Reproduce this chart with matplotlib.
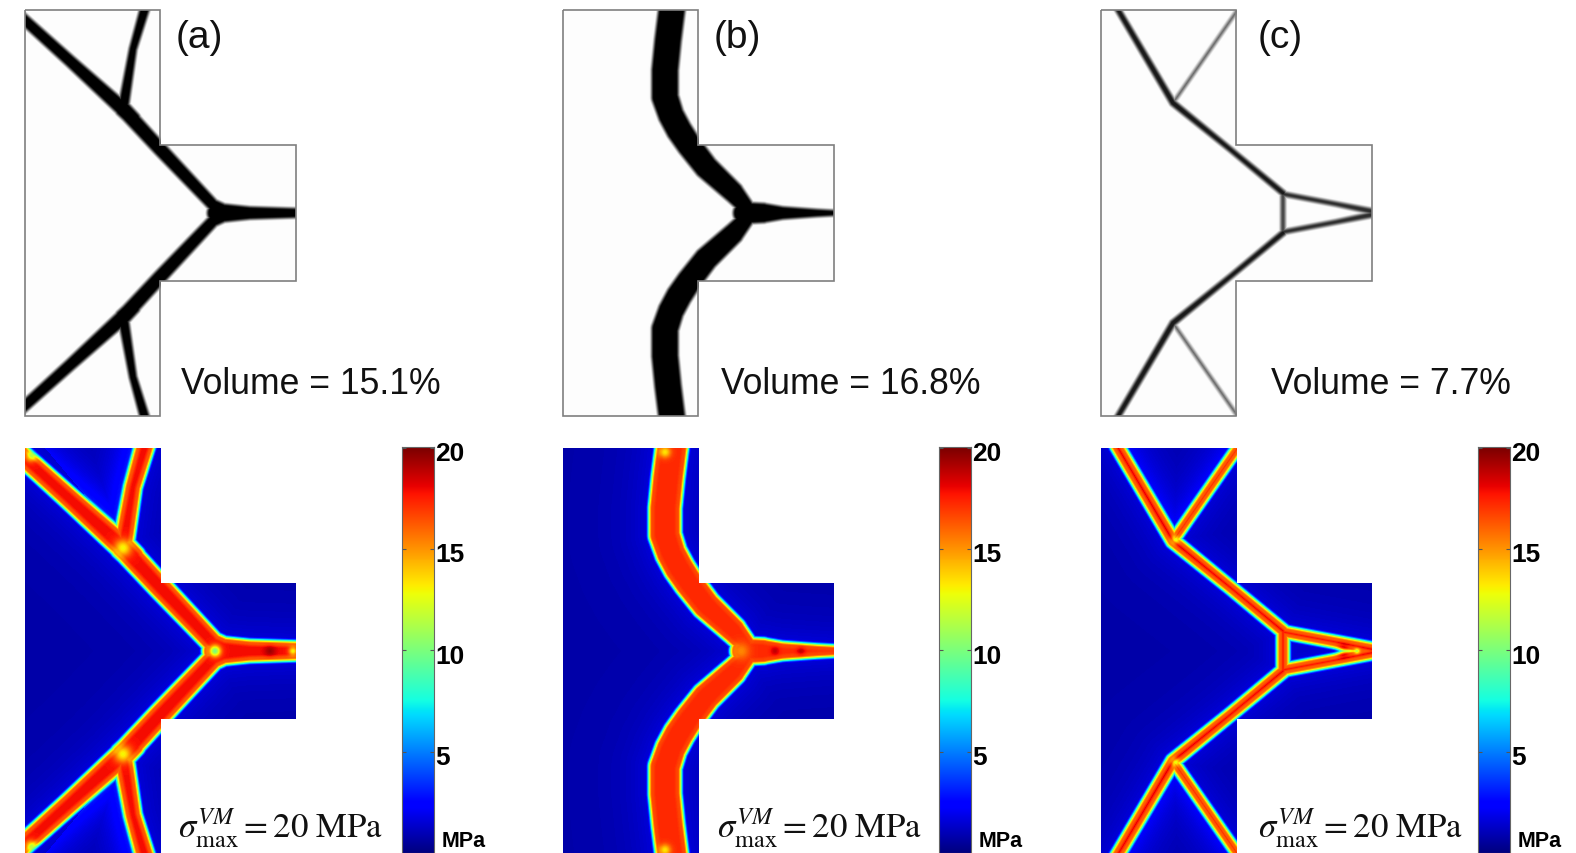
import numpy as np
import matplotlib
matplotlib.use("Agg")
import matplotlib.pyplot as plt
from matplotlib.patches import PathPatch
from matplotlib.path import Path
from matplotlib.transforms import ScaledTranslation

plt.rcParams["font.family"] = ["Liberation Sans", "DejaVu Sans"]
plt.rcParams["mathtext.fontset"] = "stix"

W, H = 1576, 854
DOMAIN_W, DOMAIN_H = 271, 406

# T-shaped domain outline, relative to the panel corner
OUTLINE_X = [0, 135.5, 135.5, 271, 271, 135.5, 135.5, 0, 0]
OUTLINE_Y = [0, 0, 135, 135, 271, 271, 406, 406, 0]

PANEL_LEFT = [25, 563, 1101]
TOP_ROW_Y = 11
BOTTOM_ROW_Y = 449
LETTERS = ["(a)", "(b)", "(c)"]
VOLUMES = ["Volume = 15.1%", "Volume = 16.8%", "Volume = 7.7%"]
LETTER_X = [176, 714, 1258]
VOLUME_X = [181, 721, 1271]
SIGMA_X = [178, 717, 1258]
CBAR_LEFT = [402, 939, 1478]

# struts of the upper half: (x, y, width in the density plot); mirrored about mid-height
A_MAIN = [(-6, 5, 11), (45, 51, 12), (98, 99, 15), (135, 139, 14), (188, 195, 12), (202, 203, 15)]
A_BRANCH = [(98, 99, 11), (108, 39, 8), (120, -2, 10)]
A_HUB = [(98, 99, 16), (108, 109, 15)]
A_TAB = [(192, 203, 20), (225, 203, 13), (272, 203, 10)]
B_MAIN = [(109, -2, 27), (105, 30, 27), (102, 60, 27), (102, 87, 27), (108, 105, 26), (116, 120, 26),
          (126, 135, 25), (143, 157, 24), (170, 182, 21), (183, 197, 16)]
B_TAB = [(181, 203, 22), (200, 203, 20), (220, 203, 13), (254, 203, 8), (272, 203, 6)]
C_MAIN = [(16, -2, 6), (72, 93, 6.5), (130, 140, 5.5), (182, 183, 6)]
C_BRANCH = [(72, 93, 3.5), (138, -2, 3.5)]
C_STRUT = [(182, 183, 5), (182, 203, 5)]
C_TAB = [(182, 184, 5), (235, 194, 5), (272, 201.5, 6)]

PATHS = [
    [(A_MAIN, 1.0), (A_BRANCH, 1.0), (A_HUB, 1.0), (A_TAB, 1.0)],
    [(B_MAIN, 1.0), (B_TAB, 1.0)],
    [(C_MAIN, 0.9), (C_BRANCH, 0.6), (C_STRUT, 0.72), (C_TAB, 0.82)],
]
# how much wider the stressed band is than the black strut, its level and how dark its core gets
STRESS_EXTRA = [9, 5, 7]
BAND_LEVEL = [16.4, 16.7, 16.2]
CORE_GAIN = [1.5, 0.6, 2.3]

# local stress changes at the joints: (x, y, radius, depth)
A_SPOTS = [(98, 100, 6, 5), (190, 203, 4, 8), (268, 203, 3, 5), (6, 8, 4, 5), (245, 203, 4, -1.5)]
B_SPOTS = [(178, 203, 6, 2), (102, 4, 4, 4), (212, 203, 3, -1.5), (238, 203, 3, -1.5)]
C_SPOTS = [(74, 92, 3, 4), (242, 203, 4, -3.5), (256, 203, 2, 4)]
SPOTS = [A_SPOTS, B_SPOTS, C_SPOTS]

# lighter blue pockets between the struts
A_POCKET = [(20, 0), (115, 0), (98, 92)]
C_POCKET = [(22, 0), (134, 0), (75, 88)]
POCKETS = [(A_POCKET, 1.6), None, (C_POCKET, 0.8)]

CBAR_TICKS = [5, 10, 15, 20]


def mirrored(points):
    return [(x, DOMAIN_H - y, w) for x, y, w in points]


def strut_clearance(xx, yy, points, extra=0.0):
    """Signed clearance to a variable width polyline (positive inside)."""
    best = np.full(xx.shape, -1e9)
    for (x0, y0, w0), (x1, y1, w1) in zip(points[:-1], points[1:]):
        dx, dy = x1 - x0, y1 - y0
        t = np.clip(((xx - x0) * dx + (yy - y0) * dy) / (dx * dx + dy * dy), 0, 1)
        dist = np.hypot(xx - x0 - t * dx, yy - y0 - t * dy)
        best = np.maximum(best, (w0 + (w1 - w0) * t + extra) / 2 - dist)
    return best


def smooth(u):
    u = np.clip(u, 0, 1)
    return u * u * (3 - 2 * u)


def grid():
    x = np.arange(DOMAIN_W) + 0.5
    y = np.arange(DOMAIN_H) + 0.5
    return np.meshgrid(x, y)


def t_mask(xx, yy):
    return (xx > 135.5) & ((yy < 135) | (yy > 271))


def density_image(paths):
    xx, yy = grid()
    rho = np.zeros(xx.shape)
    for points, strength in paths:
        for pts in (points, mirrored(points)):
            clear = strut_clearance(xx, yy, pts)
            rho = np.maximum(rho, strength * smooth(clear / 5 + 0.5))
    rho = 0.992 - 0.992 * rho
    return np.ma.masked_where(t_mask(xx, yy), rho)


def stress_image(paths, extra, level, gain, spots, pocket):
    xx, yy = grid()
    clear = np.full(xx.shape, -1e9)
    core = np.zeros(xx.shape)
    for points, strength in paths:
        for pts in (points, mirrored(points)):
            c = strut_clearance(xx, yy, pts, extra)
            clear = np.maximum(clear, c)
            core = np.maximum(core, smooth((c - 3.5) / 4))
    background = 0.75 + 0.9 * np.exp(np.minimum(clear, 0) / 24)
    if pocket is not None:
        tri, lift = pocket
        xy = np.column_stack([xx.ravel(), yy.ravel()])
        for pts in (tri, [(x, DOMAIN_H - y) for x, y in tri]):
            inside = Path(pts + [pts[0]]).contains_points(xy).reshape(xx.shape)
            background = background + lift * inside * np.exp(np.minimum(clear, 0) / 18)
    band = smooth(clear / 7 + 0.55)
    sigma = background + (level - background) * band + gain * core * band
    for x, y, r, depth in spots:
        weight = band if depth > 0 else 1.0
        for yc in {y, DOMAIN_H - y}:
            sigma = sigma - depth * np.exp(-((xx - x) ** 2 + (yy - yc) ** 2) / (2 * r * r)) * weight
    return np.ma.masked_where(t_mask(xx, yy), sigma)


fig = plt.figure(figsize=(W / 100, H / 100), dpi=100, facecolor="white")
ax = fig.add_axes([0, 0, 1, 1])
ax.set_xlim(0, W)
ax.set_ylim(H, 0)
ax.axis("off")

jet = plt.get_cmap("jet").copy()
jet.set_bad((1, 1, 1, 0))
gray = plt.get_cmap("gray").copy()
gray.set_bad((1, 1, 1, 0))

for i, left in enumerate(PANEL_LEFT):
    ax.imshow(density_image(PATHS[i]), cmap=gray, vmin=0, vmax=1, interpolation="bilinear",
              extent=(left, left + DOMAIN_W, TOP_ROW_Y + DOMAIN_H, TOP_ROW_Y), aspect="auto", zorder=1)
    outline = Path(np.column_stack([np.array(OUTLINE_X) + left, np.array(OUTLINE_Y) + TOP_ROW_Y]))
    ax.add_patch(PathPatch(outline, fill=False, ec="#7f7f7f", lw=1.2, zorder=2))

    ax.imshow(stress_image(PATHS[i], STRESS_EXTRA[i], BAND_LEVEL[i], CORE_GAIN[i], SPOTS[i], POCKETS[i]),
              cmap=jet, vmin=0, vmax=20, interpolation="bilinear",
              extent=(left, left + DOMAIN_W, BOTTOM_ROW_Y + DOMAIN_H, BOTTOM_ROW_Y), aspect="auto", zorder=1)

    ax.text(LETTER_X[i], 38, LETTERS[i], fontsize=28, ha="left", va="center", color="#111111")
    ax.text(VOLUME_X[i], 394, VOLUMES[i], fontsize=25.6, ha="left", va="baseline", color="#111111")
    ax.text(SIGMA_X[i], 838, r"$\sigma^{VM}_{\mathrm{max}}=20\ \mathrm{MPa}$", fontsize=25,
            ha="left", va="baseline", color="#111111")

    # colour bar with its own value axis
    cax = fig.add_axes([CBAR_LEFT[i] / W, 0, 32 / W, (H - BOTTOM_ROW_Y + 1) / H])
    gradient = np.linspace(0, 20.03, 256).reshape(-1, 1)
    cax.imshow(gradient, cmap="jet", vmin=0, vmax=20, origin="lower", aspect="auto",
               extent=(0, 1, 0, 20.03), interpolation="bilinear")
    cax.set_ylim(0, 20.03)
    cax.set_xticks([])
    cax.set_yticks(CBAR_TICKS)
    cax.set_yticklabels([str(t) for t in CBAR_TICKS], fontsize=19, fontweight="bold")
    cax.yaxis.tick_right()
    cax.tick_params(axis="y", direction="in", length=3, width=0.8, color="#555555", pad=1,
                    left=True, right=True)
    # labels sit a little below their ticks in the original
    shift = ScaledTranslation(0, -0.03, fig.dpi_scale_trans)
    for lbl in cax.get_yticklabels():
        lbl.set_transform(lbl.get_transform() + shift)
    for spine in cax.spines.values():
        spine.set_color("#666666")
        spine.set_linewidth(0.8)
    ax.text(CBAR_LEFT[i] + 40, 847, "MPa", fontsize=15.5, fontweight="bold", ha="left", va="baseline")

fig.savefig("out.png", dpi=100)
